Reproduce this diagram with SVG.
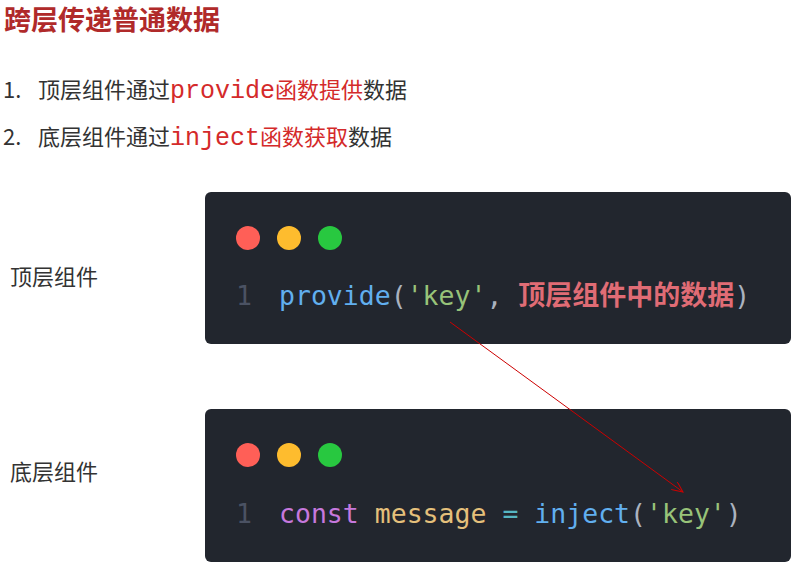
<svg xmlns="http://www.w3.org/2000/svg" width="797" height="572" viewBox="0 0 797 572">
<defs>
<style>
.t{font-family:"Noto Sans CJK SC",sans-serif;font-size:22px;fill:#333}
.m{font-family:"Liberation Mono","Noto Sans CJK SC",monospace;fill:#d42a2a;font-size:25px}
.c{font-family:"DejaVu Sans Mono","Noto Sans CJK SC",monospace;font-size:26.5px}
.box{fill:#22262e}
</style>
<marker id="ah" markerWidth="12" markerHeight="10" refX="11" refY="5" orient="auto" markerUnits="userSpaceOnUse"><path d="M0,0 L11,5 L0,10" fill="none" stroke="#c00" stroke-width="1"/></marker>
</defs>
<rect width="797" height="572" fill="#fff"/>
<text x="4" y="30" font-family="Noto Sans CJK SC,sans-serif" font-size="27" font-weight="bold" fill="#b02a2a">跨层传递普通数据</text>
<text class="t" x="3" y="98" font-family="Liberation Serif" fill="#333">1.</text>
<text class="t" x="38" y="98">顶层组件通过<tspan class="m">provide</tspan><tspan fill="#d42a2a">函数提供</tspan>数据</text>
<text class="t" x="3" y="145" font-family="Liberation Serif" fill="#333">2.</text>
<text class="t" x="38" y="145">底层组件通过<tspan class="m">inject</tspan><tspan fill="#d42a2a">函数获取</tspan>数据</text>
<g id="top">
<text class="t" x="10" y="285" font-size="21">顶层组件</text>
<rect class="box" x="205" y="192" width="586" height="152" rx="6"/>
<circle cx="248" cy="238" r="12" fill="#ff5f57"/><circle cx="289" cy="238" r="12" fill="#febc2e"/><circle cx="330" cy="238" r="12" fill="#28c840"/>
<text class="c" x="236" y="305"><tspan fill="#4b5263">1</tspan><tspan x="279" fill="#61afef">provide</tspan><tspan fill="#abb2bf">(</tspan><tspan fill="#98c379">'key'</tspan><tspan fill="#abb2bf">, </tspan><tspan fill="#e06c75" font-size="27" font-weight="bold">顶层组件中的数据</tspan><tspan fill="#abb2bf">)</tspan></text>
</g>
<g id="bottom">
<text class="t" x="10" y="480" font-size="21">底层组件</text>
<rect class="box" x="205" y="409" width="586" height="153" rx="6"/>
<circle cx="248" cy="455" r="12" fill="#ff5f57"/><circle cx="289" cy="455" r="12" fill="#febc2e"/><circle cx="330" cy="455" r="12" fill="#28c840"/>
<text class="c" x="236" y="523"><tspan fill="#4b5263">1</tspan><tspan x="279" fill="#c678dd">const</tspan><tspan fill="#abb2bf"> </tspan><tspan fill="#e5c07b">message</tspan><tspan fill="#56b6c2"> = </tspan><tspan fill="#61afef">inject</tspan><tspan fill="#abb2bf">(</tspan><tspan fill="#98c379">'key'</tspan><tspan fill="#abb2bf">)</tspan></text>
</g>
<g id="connectors">
<line x1="450" y1="322" x2="683" y2="492" stroke="#c00" stroke-width="1" marker-end="url(#ah)"/>
</g>
</svg>
